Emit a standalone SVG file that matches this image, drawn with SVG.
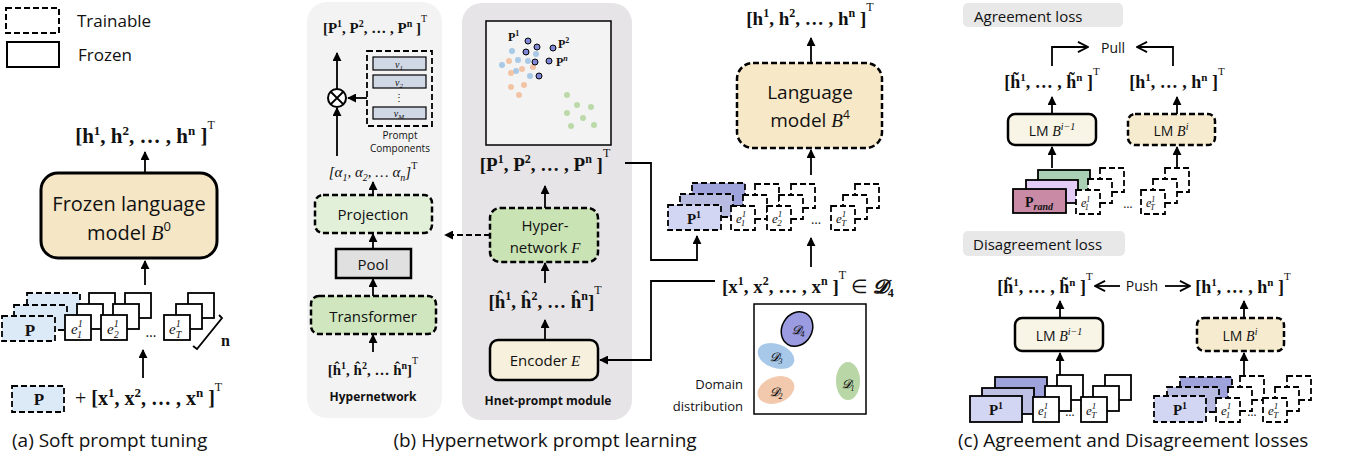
<svg xmlns="http://www.w3.org/2000/svg" width="1348" height="459" viewBox="0 0 1348 459">
<style>
.s{font-family:"Open Sans","Liberation Sans",sans-serif;fill:#111}
.m{font-family:"Liberation Serif",serif;font-weight:bold;fill:#111}
.i{font-family:"Liberation Serif",serif;font-style:italic;fill:#111}
.ln{fill:none;stroke:#000;stroke-width:1.8}
.d{stroke-dasharray:6 3}
.bx{stroke:#000;stroke-width:3}
.tk{fill:#fff;stroke:#000;stroke-width:1.8}
</style>
<defs>
<marker id="a" viewBox="0 0 10 10" refX="9" refY="5" markerWidth="5" markerHeight="5" orient="auto"><path d="M0,0L10,5L0,10z" fill="#000"/></marker>
<marker id="o" viewBox="0 0 10 10" refX="9" refY="5" markerWidth="7" markerHeight="7" orient="auto"><path d="M1,1L9,5L1,9" fill="none" stroke="#000" stroke-width="1.5"/></marker>
<g id="stS"><rect class="tk" x="24" y="-22" width="26" height="25"/><rect class="tk" x="12" y="-11" width="26" height="25"/><rect class="tk" x="0" y="0" width="26" height="25"/></g>
<g id="stD"><rect class="tk d" x="24" y="-22" width="24" height="24"/><rect class="tk d" x="12" y="-11" width="24" height="24"/><rect class="tk d" x="0" y="0" width="24" height="24"/></g>
</defs>
<rect width="1348" height="459" fill="#fff"/>

<g id="legend">
<rect x="6" y="8" width="53" height="25" fill="none" stroke="#000" stroke-width="2" class="d"/>
<text class="s" x="77" y="27" font-size="17">Trainable</text>
<rect x="7" y="42" width="52" height="25" fill="none" stroke="#000" stroke-width="2"/>
<text class="s" x="78" y="61" font-size="17">Frozen</text>
</g>

<g id="panelA">
<text class="m" x="145" y="143" font-size="21" text-anchor="middle">[h<tspan font-size="13" dy="-8">1</tspan><tspan dy="8">, h</tspan><tspan font-size="13" dy="-8">2</tspan><tspan dy="8">, … , h</tspan><tspan font-size="13" dy="-8">n</tspan><tspan dy="8"> ]</tspan><tspan font-size="12" font-weight="normal" dy="-14">T</tspan></text>
<g id="frozenLM"><rect class="bx" x="41" y="173" width="176" height="85" rx="17" fill="#f5e6c6"/>
<text class="s" x="129" y="211" font-size="20" text-anchor="middle">Frozen language</text>
<text class="s" x="129" y="240" font-size="20" text-anchor="middle">model <tspan class="i">B</tspan><tspan font-size="13" dy="-9">0</tspan></text></g>
<g id="tokA">
<rect x="27" y="293" width="53" height="25" fill="#dce9f6" stroke="#000" stroke-width="1.8" class="d"/>
<rect x="14" y="305" width="53" height="25" fill="#dce9f6" stroke="#000" stroke-width="1.8" class="d"/>
<rect x="2" y="316" width="53" height="25" fill="#dce9f6" stroke="#000" stroke-width="1.8" class="d"/>
<text class="m" x="30" y="336" font-size="17" text-anchor="middle">P</text>
<use href="#stS" x="65" y="315"/><use href="#stS" x="101" y="315"/><use href="#stS" x="164" y="315"/>
<text class="i" x="71" y="334" font-size="15">e<tspan font-size="10" dy="-7">1</tspan><tspan font-size="10" dx="-5" dy="11">1</tspan></text>
<text class="i" x="107" y="334" font-size="15">e<tspan font-size="10" dy="-7">1</tspan><tspan font-size="10" dx="-5" dy="11">2</tspan></text>
<text class="i" x="169" y="334" font-size="15">e<tspan font-size="10" dy="-7">1</tspan><tspan font-size="10" dx="-5" dy="11">T</tspan></text>
<text class="s" x="151" y="337" font-size="14" text-anchor="middle">…</text>
<path class="ln" d="M193,346L197,349L222,318L219,315"/>
<text class="m" x="221" y="346" font-size="16">n</text>
</g>
<rect x="12" y="386" width="52" height="26" fill="#dce9f6" stroke="#000" stroke-width="1.8" class="d"/>
<text class="m" x="39" y="405" font-size="17" text-anchor="middle">P</text>
<text class="m" x="75" y="405" font-size="20"><tspan font-weight="normal">+ </tspan>[x<tspan font-size="13" dy="-8">1</tspan><tspan dy="8">, x</tspan><tspan font-size="13" dy="-8">2</tspan><tspan dy="8">, … , x</tspan><tspan font-size="13" dy="-8">n</tspan><tspan dy="8"> ]</tspan><tspan font-size="12" font-weight="normal" dy="-14">T</tspan></text>
<text class="s" x="12" y="447" font-size="19">(a) Soft prompt tuning</text>
</g>

<g id="hypernetwork">
<rect x="307" y="2" width="135" height="416" rx="20" fill="#f3f3f3"/>
<text class="m" x="375" y="33" font-size="15" text-anchor="middle">[P<tspan font-size="10" dy="-6">1</tspan><tspan dy="6">, P</tspan><tspan font-size="10" dy="-6">2</tspan><tspan dy="6">, … , P</tspan><tspan font-size="10" dy="-6">n</tspan><tspan dy="6"> ]</tspan><tspan font-size="10" font-weight="normal" dy="-11">T</tspan></text>
<circle cx="337" cy="98" r="9" fill="#fff" stroke="#000" stroke-width="2"/>
<path class="ln" d="M331,92L343,104M343,92L331,104"/>
<rect x="367" y="51" width="65" height="75" fill="none" stroke="#000" stroke-width="1.8" class="d"/>
<rect x="373" y="57" width="53" height="13" fill="#d0d8e6" stroke="#000" stroke-width="1.2"/>
<rect x="373" y="75" width="53" height="13" fill="#d0d8e6" stroke="#000" stroke-width="1.2"/>
<rect x="373" y="107" width="53" height="12" fill="#d0d8e6" stroke="#000" stroke-width="1.2"/>
<text class="i" x="399" y="68" font-size="10" text-anchor="middle">v<tspan font-size="7" dy="2">1</tspan></text>
<text class="i" x="399" y="86" font-size="10" text-anchor="middle">v<tspan font-size="7" dy="2">2</tspan></text>
<text class="s" x="399" y="101" font-size="10" text-anchor="middle">⋮</text>
<text class="i" x="399" y="117" font-size="10" text-anchor="middle">v<tspan font-size="7" dy="2">M</tspan></text>
<text class="s" x="400" y="139" font-size="10" text-anchor="middle">Prompt</text>
<text class="s" x="400" y="152" font-size="10" text-anchor="middle">Components</text>
<text class="i" x="373" y="177" font-size="15" text-anchor="middle">[α<tspan font-size="10" dy="4">1</tspan><tspan dy="-4">, α</tspan><tspan font-size="10" dy="4">2</tspan><tspan dy="-4">, … α</tspan><tspan font-size="10" dy="4">n</tspan><tspan dy="-4">]</tspan><tspan font-style="normal" font-size="10" dy="-8">T</tspan></text>
<g id="projection"><rect x="315" y="195" width="117" height="38" rx="8" fill="#e2efd9" stroke="#000" stroke-width="2.5" class="d"/>
<text class="s" x="373" y="220" font-size="15" text-anchor="middle">Projection</text></g>
<g id="pool"><rect x="336" y="249" width="75" height="29" fill="#e0e0e0" stroke="#000" stroke-width="2.5"/>
<text class="s" x="373" y="270" font-size="15" text-anchor="middle">Pool</text></g>
<g id="transformer"><rect x="311" y="296" width="125" height="38" rx="8" fill="#cfe6bf" stroke="#000" stroke-width="2.5" class="d"/>
<text class="s" x="373" y="322" font-size="15" text-anchor="middle">Transformer</text></g>
<text class="m" x="373" y="375" font-size="15" text-anchor="middle">[ĥ<tspan font-size="10" dy="-6">1</tspan><tspan dy="6">, ĥ</tspan><tspan font-size="10" dy="-6">2</tspan><tspan dy="6">, … ĥ</tspan><tspan font-size="10" dy="-6">n</tspan><tspan dy="6">]</tspan><tspan font-size="10" font-weight="normal" dy="-11">T</tspan></text>
<text class="s" x="373" y="401" font-size="12" font-weight="bold" text-anchor="middle">Hypernetwork</text>
</g>

<g id="hnetModule">
<rect x="462" y="3" width="170" height="417" rx="20" fill="#e6e4e6"/>
<rect x="486" y="21" width="125" height="124" fill="#f3f3f3" stroke="#000" stroke-width="1.5"/>
<g fill="#a9c9e6"><circle cx="512" cy="51" r="3"/><circle cx="518" cy="60" r="3"/><circle cx="502" cy="65" r="3"/><circle cx="528" cy="61" r="3"/><circle cx="516" cy="71" r="3"/><circle cx="530" cy="76" r="3"/><circle cx="536" cy="54" r="3"/></g>
<g fill="#f2c3a4"><circle cx="509" cy="61" r="3"/><circle cx="511" cy="73" r="3"/><circle cx="522" cy="69" r="3"/><circle cx="533" cy="67" r="3"/><circle cx="511" cy="87" r="3"/><circle cx="524" cy="85" r="3"/><circle cx="519" cy="95" r="3"/></g>
<g fill="#bcd9a9"><circle cx="567" cy="95" r="3"/><circle cx="577" cy="105" r="3"/><circle cx="591" cy="107" r="3"/><circle cx="567" cy="113" r="3"/><circle cx="583" cy="118" r="3"/><circle cx="594" cy="125" r="3"/><circle cx="571" cy="126" r="3"/></g>
<g fill="#7f86d6" stroke="#000" stroke-width="1"><circle cx="528" cy="41" r="3"/><circle cx="537" cy="47" r="3"/><circle cx="526" cy="52" r="3"/><circle cx="535" cy="62" r="3"/><circle cx="553" cy="48" r="3"/><circle cx="549" cy="61" r="3"/><circle cx="539" cy="76" r="3"/></g>
<text class="m" x="508" y="41" font-size="12">P<tspan font-size="8" dy="-5">1</tspan></text>
<text class="m" x="558" y="48" font-size="12">P<tspan font-size="8" dy="-5">2</tspan></text>
<text class="m" x="556" y="66" font-size="12">P<tspan font-size="8" font-style="italic" dy="-5">n</tspan></text>
<text class="m" x="545" y="171" font-size="19" text-anchor="middle">[P<tspan font-size="12" dy="-8">1</tspan><tspan dy="8">, P</tspan><tspan font-size="12" dy="-8">2</tspan><tspan dy="8">, … , P</tspan><tspan font-size="12" dy="-8">n</tspan><tspan dy="8"> ]</tspan><tspan font-size="12" font-weight="normal" dy="-14">T</tspan></text>
<g id="hyperF"><rect x="490" y="208" width="108" height="54" rx="10" fill="#c9e3b5" stroke="#000" stroke-width="2.5" class="d"/>
<text class="s" x="545" y="231" font-size="15" text-anchor="middle">Hyper-</text>
<text class="s" x="545" y="253" font-size="15" text-anchor="middle">network <tspan class="i">F</tspan></text></g>
<text class="m" x="545" y="308" font-size="19" text-anchor="middle">[ĥ<tspan font-size="12" dy="-8">1</tspan><tspan dy="8">, ĥ</tspan><tspan font-size="12" dy="-8">2</tspan><tspan dy="8">, … ĥ</tspan><tspan font-size="12" dy="-8">n</tspan><tspan dy="8">]</tspan><tspan font-size="12" font-weight="normal" dy="-14">T</tspan></text>
<g id="encoder"><rect x="490" y="340" width="108" height="40" rx="8" fill="#f7f0dc" stroke="#000" stroke-width="2.5"/>
<text class="s" x="545" y="366" font-size="15" text-anchor="middle">Encoder <tspan class="i">E</tspan></text></g>
<text class="s" x="548" y="405" font-size="12" font-weight="bold" text-anchor="middle">Hnet-prompt module</text>
</g>

<g id="panelBright">
<text class="m" x="810" y="25" font-size="19" text-anchor="middle">[h<tspan font-size="12" dy="-8">1</tspan><tspan dy="8">, h</tspan><tspan font-size="12" dy="-8">2</tspan><tspan dy="8">, … , h</tspan><tspan font-size="12" dy="-8">n</tspan><tspan dy="8"> ]</tspan><tspan font-size="12" font-weight="normal" dy="-14">T</tspan></text>
<g id="lmB4"><rect x="737" y="63" width="145" height="85" rx="16" fill="#f7e8c8" stroke="#000" stroke-width="2.5" class="d"/>
<text class="s" x="810" y="99" font-size="19" text-anchor="middle">Language</text>
<text class="s" x="810" y="127" font-size="19" text-anchor="middle">model <tspan class="i">B</tspan><tspan font-size="12" dy="-8">4</tspan></text></g>
<rect x="692" y="183" width="53" height="23" fill="#9fa3dc" stroke="#000" stroke-width="1.8" class="d"/>
<rect x="680" y="194" width="53" height="23" fill="#b8bce0" stroke="#000" stroke-width="1.8" class="d"/>
<rect x="668" y="205" width="53" height="25" fill="#d3d6f3" stroke="#000" stroke-width="1.8" class="d"/>
<text class="m" x="694" y="224" font-size="15" text-anchor="middle">P<tspan font-size="10" dy="-6">1</tspan></text>
<use href="#stD" x="731" y="206"/><use href="#stD" x="767" y="206"/><use href="#stD" x="831" y="206"/>
<text class="i" x="736" y="223" font-size="13">e<tspan font-size="9" dy="-6">1</tspan><tspan font-size="9" dx="-5" dy="9">1</tspan></text>
<text class="i" x="772" y="223" font-size="13">e<tspan font-size="9" dy="-6">1</tspan><tspan font-size="9" dx="-5" dy="9">2</tspan></text>
<text class="i" x="836" y="223" font-size="13">e<tspan font-size="9" dy="-6">1</tspan><tspan font-size="9" dx="-5" dy="9">T</tspan></text>
<text class="s" x="816" y="224" font-size="13" text-anchor="middle">…</text>
<text class="m" x="722" y="293" font-size="19">[x<tspan font-size="12" dy="-8">1</tspan><tspan dy="8">, x</tspan><tspan font-size="12" dy="-8">2</tspan><tspan dy="8">, … , x</tspan><tspan font-size="12" dy="-8">n</tspan><tspan dy="8"> ]</tspan><tspan font-size="12" font-weight="normal" dy="-14">T</tspan><tspan dy="14" font-weight="normal"> ∈ </tspan><tspan font-style="italic">𝓓</tspan><tspan font-size="12" dy="4">4</tspan></text>
<rect x="754" y="304" width="112" height="110" fill="#fff" stroke="#000" stroke-width="1.5"/>
<ellipse cx="797" cy="329" rx="15" ry="18" transform="rotate(30 797 329)" fill="#9a9be0" stroke="#000" stroke-width="1.5"/>
<ellipse cx="776" cy="356" rx="19" ry="12" transform="rotate(20 776 356)" fill="#a7c8e8"/>
<ellipse cx="776" cy="390" rx="19" ry="13" transform="rotate(-20 776 390)" fill="#f2c9ad"/>
<ellipse cx="848" cy="381" rx="12" ry="19" fill="#b9d7a6"/>
<text class="i" x="798" y="334" font-size="12" text-anchor="middle">𝓓<tspan font-size="8" dy="3">4</tspan></text>
<text class="i" x="776" y="361" font-size="12" text-anchor="middle">𝓓<tspan font-size="8" dy="3">3</tspan></text>
<text class="i" x="776" y="396" font-size="12" text-anchor="middle">𝓓<tspan font-size="8" dy="3">2</tspan></text>
<text class="i" x="848" y="388" font-size="12" text-anchor="middle">𝓓<tspan font-size="8" dy="3">1</tspan></text>
<text class="s" x="743" y="389" font-size="13" text-anchor="end">Domain</text>
<text class="s" x="743" y="411" font-size="13" text-anchor="end">distribution</text>
<text class="s" x="545" y="447" font-size="19" text-anchor="middle">(b) Hypernetwork prompt learning</text>
</g>

<g id="panelC">
<rect x="963" y="3" width="160" height="24" rx="5" fill="#e8e8e8"/>
<text class="s" x="974" y="22" font-size="15">Agreement loss</text>
<text class="s" x="1113" y="53" font-size="14" text-anchor="middle">Pull</text>
<text class="m" x="1052" y="88" font-size="18" text-anchor="middle">[h̃<tspan font-size="11" dy="-7">1</tspan><tspan dy="7">, … , h̃</tspan><tspan font-size="11" dy="-7">n</tspan><tspan dy="7"> ]</tspan><tspan font-size="11" font-weight="normal" dy="-13">T</tspan></text>
<text class="m" x="1177" y="88" font-size="18" text-anchor="middle">[h<tspan font-size="11" dy="-7">1</tspan><tspan dy="7">, … , h</tspan><tspan font-size="11" dy="-7">n</tspan><tspan dy="7"> ]</tspan><tspan font-size="11" font-weight="normal" dy="-13">T</tspan></text>
<g id="lmA1"><rect x="1008" y="114" width="88" height="31" rx="7" fill="#f8f4e6" stroke="#000" stroke-width="2.5"/>
<text class="s" x="1052" y="136" font-size="14" text-anchor="middle">LM <tspan class="i">B</tspan><tspan class="i" font-size="10" dy="-6">i−1</tspan></text></g>
<g id="lmA2"><rect x="1128" y="114" width="87" height="31" rx="7" fill="#f7ebcf" stroke="#000" stroke-width="2.5" class="d"/>
<text class="s" x="1171" y="136" font-size="14" text-anchor="middle">LM <tspan class="i">B</tspan><tspan class="i" font-size="10" dy="-6">i</tspan></text></g>
<rect x="1038" y="170" width="52" height="24" fill="#a9cfb5" stroke="#000" stroke-width="1.8"/>
<rect x="1026" y="180" width="52" height="23" fill="#e3ccf5" stroke="#000" stroke-width="1.8"/>
<rect x="1013" y="189" width="53" height="24" fill="#c98aa6" stroke="#000" stroke-width="1.8"/>
<text class="m" x="1039" y="207" font-size="14" text-anchor="middle">P<tspan font-size="10" font-style="italic" dy="3">rand</tspan></text>
<use href="#stD" x="1076" y="190"/>
<use href="#stD" x="1141" y="190"/>
<text class="i" x="1081" y="207" font-size="12">e<tspan font-size="8" dy="-5">1</tspan><tspan font-size="8" dx="-5" dy="8">1</tspan></text>
<text class="i" x="1146" y="207" font-size="12">e<tspan font-size="8" dy="-5">1</tspan><tspan font-size="8" dx="-5" dy="8">T</tspan></text>
<text class="s" x="1128" y="208" font-size="12" text-anchor="middle">…</text>

<rect x="963" y="231" width="162" height="25" rx="5" fill="#e8e8e8"/>
<text class="s" x="973" y="250" font-size="15">Disagreement loss</text>
<text class="m" x="1045" y="293" font-size="18" text-anchor="middle">[h̃<tspan font-size="11" dy="-7">1</tspan><tspan dy="7">, … , h̃</tspan><tspan font-size="11" dy="-7">n</tspan><tspan dy="7"> ]</tspan><tspan font-size="11" font-weight="normal" dy="-13">T</tspan></text>
<text class="s" x="1142" y="291" font-size="14" text-anchor="middle">Push</text>
<text class="m" x="1243" y="293" font-size="18" text-anchor="middle">[h<tspan font-size="11" dy="-7">1</tspan><tspan dy="7">, … , h</tspan><tspan font-size="11" dy="-7">n</tspan><tspan dy="7"> ]</tspan><tspan font-size="11" font-weight="normal" dy="-13">T</tspan></text>
<g id="lmD1"><rect x="1015" y="318" width="88" height="33" rx="7" fill="#f8f4e6" stroke="#000" stroke-width="2.5"/>
<text class="s" x="1059" y="341" font-size="14" text-anchor="middle">LM <tspan class="i">B</tspan><tspan class="i" font-size="10" dy="-6">i−1</tspan></text></g>
<g id="lmD2"><rect x="1197" y="318" width="87" height="33" rx="7" fill="#f7ebcf" stroke="#000" stroke-width="2.5" class="d"/>
<text class="s" x="1240" y="341" font-size="14" text-anchor="middle">LM <tspan class="i">B</tspan><tspan class="i" font-size="10" dy="-6">i</tspan></text></g>
<rect x="995" y="377" width="52" height="27" fill="#9fa3dc" stroke="#000" stroke-width="1.8"/>
<rect x="982" y="388" width="52" height="26" fill="#bec1e3" stroke="#000" stroke-width="1.8"/>
<rect x="970" y="396" width="52" height="26" fill="#d3d6f3" stroke="#000" stroke-width="1.8"/>
<text class="m" x="996" y="415" font-size="15" text-anchor="middle">P<tspan font-size="10" dy="-6">1</tspan></text>
<use href="#stS" x="1033" y="397"/><use href="#stS" x="1081" y="397"/>
<text class="i" x="1038" y="415" font-size="13">e<tspan font-size="9" dy="-6">1</tspan><tspan font-size="9" dx="-5" dy="9">1</tspan></text>
<text class="i" x="1086" y="415" font-size="13">e<tspan font-size="9" dy="-6">1</tspan><tspan font-size="9" dx="-5" dy="9">T</tspan></text>
<text class="s" x="1070" y="416" font-size="12" text-anchor="middle">…</text>
<rect x="1180" y="377" width="52" height="25" fill="#9fa3dc" stroke="#000" stroke-width="1.8" class="d"/>
<rect x="1167" y="387" width="52" height="25" fill="#b8bce0" stroke="#000" stroke-width="1.8" class="d"/>
<rect x="1154" y="396" width="52" height="26" fill="#d3d6f3" stroke="#000" stroke-width="1.8" class="d"/>
<text class="m" x="1180" y="415" font-size="15" text-anchor="middle">P<tspan font-size="10" dy="-6">1</tspan></text>
<use href="#stD" x="1216" y="398"/><use href="#stD" x="1263" y="398"/>
<text class="i" x="1221" y="415" font-size="13">e<tspan font-size="9" dy="-6">1</tspan><tspan font-size="9" dx="-5" dy="9">1</tspan></text>
<text class="i" x="1268" y="415" font-size="13">e<tspan font-size="9" dy="-6">1</tspan><tspan font-size="9" dx="-5" dy="9">T</tspan></text>
<text class="s" x="1252" y="416" font-size="12" text-anchor="middle">…</text>
<text class="s" x="958" y="447" font-size="19">(c) Agreement and Disagreement losses</text>
</g>

<g id="connectors">
<path class="ln" d="M145,172V152" marker-end="url(#a)"/>
<path class="ln" d="M145,285V261" marker-end="url(#a)"/>
<path class="ln" d="M143,378V350" marker-end="url(#a)"/>
<path class="ln" d="M337,156V108" marker-end="url(#a)"/>
<path class="ln" d="M337,89V53" marker-end="url(#a)"/>
<path class="ln" d="M367,98H348" marker-end="url(#a)"/>
<path class="ln" d="M373,194V182" marker-end="url(#a)"/>
<path class="ln" d="M373,249V234" marker-end="url(#a)"/>
<path class="ln" d="M373,296V279" marker-end="url(#a)"/>
<path class="ln" d="M373,352V335" marker-end="url(#a)"/>
<path class="ln d" d="M490,235H445" marker-end="url(#a)"/>
<path class="ln" d="M545,208V186" marker-end="url(#a)"/>
<path class="ln" d="M545,283V263" marker-end="url(#a)"/>
<path class="ln" d="M545,340V320" marker-end="url(#a)"/>
<path class="ln" d="M625,163H651V260H697V236" marker-end="url(#a)"/>
<path class="ln" d="M715,281H651V360H600" marker-end="url(#a)"/>
<path class="ln" d="M811,175V150" marker-end="url(#a)"/>
<path class="ln" d="M811,63V38" marker-end="url(#a)"/>
<path class="ln" d="M811,267V238" marker-end="url(#a)"/>
<path class="ln" d="M1052,66V47H1088" marker-end="url(#o)"/>
<path class="ln" d="M1173,66V47H1137" marker-end="url(#o)"/>
<path class="ln" d="M1052,114V97" marker-end="url(#a)"/>
<path class="ln" d="M1177,114V97" marker-end="url(#a)"/>
<path class="ln" d="M1052,168V147" marker-end="url(#a)"/>
<path class="ln" d="M1177,168V147" marker-end="url(#a)"/>
<path class="ln" d="M1120,286H1095" marker-end="url(#o)"/>
<path class="ln" d="M1165,286H1190" marker-end="url(#o)"/>
<path class="ln" d="M1060,318V301" marker-end="url(#a)"/>
<path class="ln" d="M1244,318V301" marker-end="url(#a)"/>
<path class="ln" d="M1060,375V353" marker-end="url(#a)"/>
<path class="ln" d="M1244,375V353" marker-end="url(#a)"/>
</g>
</svg>
